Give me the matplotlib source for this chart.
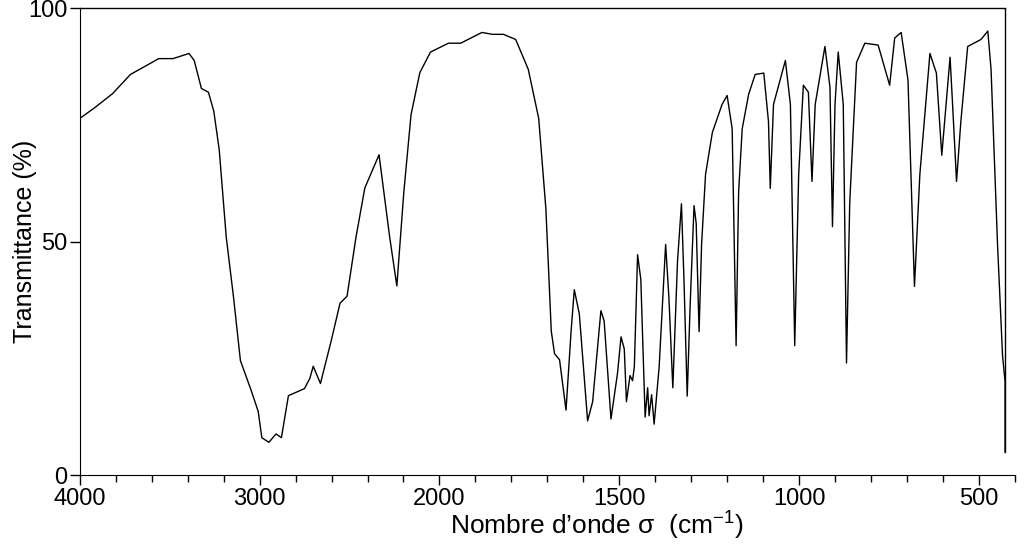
import numpy as np
import matplotlib
matplotlib.use("Agg")
import matplotlib.pyplot as plt

plt.rcParams["font.family"] = ["Liberation Sans", "DejaVu Sans"]
plt.rcParams["mathtext.fontset"] = "custom"
plt.rcParams["mathtext.rm"] = "Liberation Sans"
plt.rcParams["mathtext.it"] = "Liberation Sans:italic"

# wavenumber (cm-1) and transmittance (%)
wavenumber = [
    4000, 3917, 3818, 3719, 3561, 3482, 3393, 3364, 3324, 3285, 3255, 3225, 3186,
    3146, 3107, 3047, 3008, 2988, 2949, 2909, 2879, 2840, 2751, 2721, 2702, 2662,
    2603, 2553, 2514, 2464, 2415, 2336, 2277, 2237, 2198, 2158, 2109, 2050, 1975,
    1941, 1882, 1852, 1822, 1788, 1753, 1724, 1704, 1689, 1680, 1666, 1648, 1634,
    1625, 1611, 1588, 1574, 1551, 1542, 1523, 1505, 1495, 1486, 1480, 1470, 1463,
    1458, 1449, 1440, 1428, 1421, 1417, 1410, 1403, 1389, 1371, 1362, 1351, 1338,
    1327, 1320, 1311, 1303, 1292, 1286, 1278, 1271, 1260, 1241, 1214, 1200, 1186,
    1175, 1168, 1158, 1140, 1122, 1098, 1085, 1080, 1071, 1038, 1024, 1012, 1001,
    988, 974, 964, 955, 928, 914, 907, 900, 891, 877, 868, 859, 840, 817, 780, 748,
    734, 716, 697, 679, 664, 636, 618, 603, 591, 580, 573, 562, 550, 531, 494, 475,
    466, 448, 434, 427, 427,
]
transmittance = [
    76.4, 78.7, 81.7, 85.8, 89.2, 89.2, 90.3, 88.8, 82.8, 82.0, 77.9, 69.7, 51.0,
    38.3, 24.5, 18.1, 13.6, 8.0, 7.0, 8.8, 8.0, 17.0, 18.5, 20.7, 23.3, 19.6,
    28.6, 36.8, 38.3, 51.0, 61.5, 68.6, 51.0, 40.5, 60.7, 77.2, 86.2, 90.6, 92.5,
    92.5, 94.8, 94.4, 94.4, 93.3, 86.9, 76.4, 57.0, 30.8, 26.0, 24.7, 13.9, 30.7,
    39.7, 34.5, 11.6, 15.7, 35.2, 33.0, 12.0, 21.7, 29.6, 27.0, 15.7, 21.3, 20.2,
    23.2, 47.2, 41.9, 12.4, 18.7, 12.7, 17.2, 10.9, 23.2, 49.4, 38.2, 18.7, 45.7,
    58.1, 41.9, 16.9, 36.0, 57.7, 53.9, 30.7, 49.4, 64.4, 73.4, 79.4, 81.3, 74.2,
    27.7, 60.7, 74.2, 81.6, 85.8, 86.1, 75.7, 61.4, 79.4, 88.8, 79.4, 27.7, 64.4,
    83.5, 82.0, 62.9, 79.4, 91.8, 83.1, 53.2, 79.4, 90.6, 79.4, 24.0, 58.4, 88.4,
    92.5, 92.1, 83.5, 93.6, 94.8, 84.6, 40.4, 64.4, 90.3, 86.1, 68.5, 79.4, 89.5,
    79.4, 62.9, 75.7, 91.8, 93.3, 95.1, 86.9, 49.4, 25.5, 20.0, 4.9,
]
x_ticks = [4000, 3000, 2000, 1500, 1000, 500]
y_ticks = [0, 50, 100]


# expanded scale below 2000 cm-1 (factor 2)
def fwd(x):
    x = np.asarray(x, dtype=float)
    return np.where(x >= 2000, x, 2 * x - 2000)


def inv(u):
    u = np.asarray(u, dtype=float)
    return np.where(u >= 2000, u, (u + 2000) / 2)


fig = plt.figure(figsize=(10.24, 5.46), dpi=100)
ax = fig.add_axes([0.078, 0.13, 0.913, 0.855])
ax.set_xscale("function", functions=(fwd, inv))
ax.plot(wavenumber, transmittance, color="black", linewidth=1.0)

# frame: top and right edge end at the last data point
x_end = wavenumber[-1]
ax.plot([4000, x_end], [100, 100], color="black", linewidth=1.0, clip_on=False)
ax.plot([x_end, x_end], [transmittance[-1], 100], color="black", linewidth=1.0)
ax.spines["top"].set_visible(False)
ax.spines["right"].set_visible(False)

ax.set_xlim(4000, 400)
ax.set_ylim(0, 100)
ax.set_xticks(x_ticks)
ax.set_xticklabels([str(v) for v in x_ticks])
minor = list(range(4000, 2000, -200)) + list(range(2000, 399, -100))
ax.set_xticks(minor, minor=True)
ax.set_yticks(y_ticks)
ax.tick_params(axis="both", labelsize=17, direction="out", length=7, width=1, pad=2)
ax.tick_params(axis="x", which="minor", length=5, width=1)
ax.set_xlabel("Nombre d’onde σ  (cm$^{-1}$)", fontsize=19)
ax.xaxis.set_label_coords(0.553, -0.075)
ax.set_ylabel("Transmittance (%)", fontsize=18)
ax.yaxis.set_label_coords(-0.046, 0.5)

fig.savefig("out.png", dpi=100)
